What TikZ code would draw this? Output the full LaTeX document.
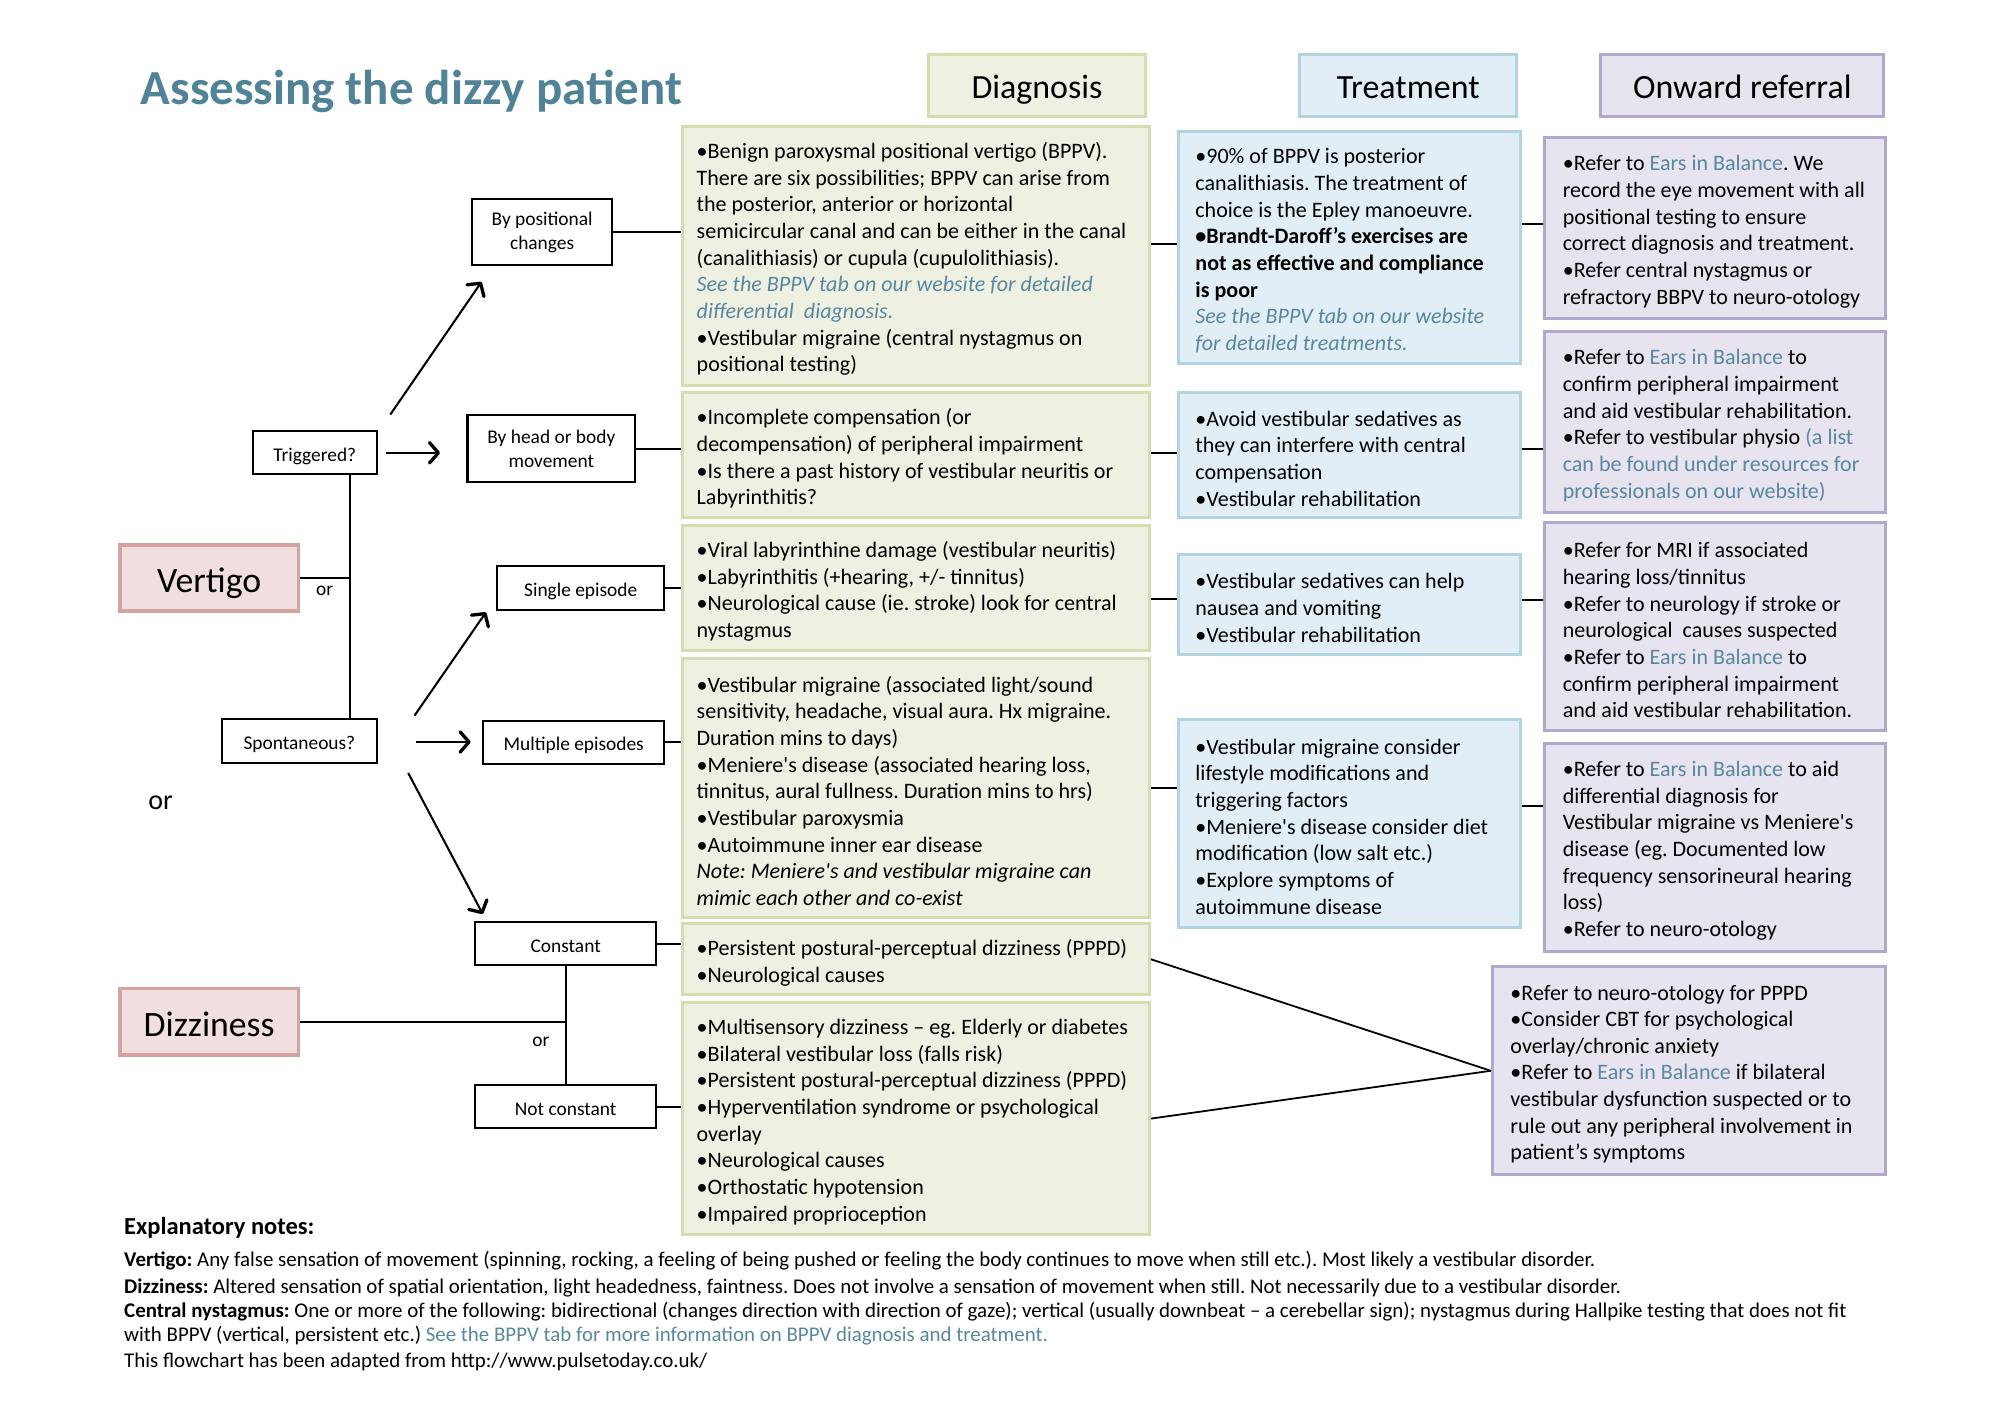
\documentclass[tikz,border=0pt]{standalone}
\usepackage{fontspec}
\setmainfont{Carlito}[Ligatures=TeXOff]
\usetikzlibrary{arrows.meta,calc}
\definecolor{gfill}{RGB}{238,240,226}
\definecolor{gdraw}{RGB}{212,221,176}
\definecolor{bfill}{RGB}{226,238,245}
\definecolor{bdraw}{RGB}{180,211,225}
\definecolor{pfill}{RGB}{231,227,239}
\definecolor{pdraw}{RGB}{178,167,204}
\definecolor{kfill}{RGB}{241,222,222}
\definecolor{kdraw}{RGB}{214,163,163}
\definecolor{linkc}{RGB}{88,135,160}
\definecolor{titlec}{RGB}{80,130,152}
\newcommand{\lk}[1]{\textcolor{linkc}{#1}}
\newcommand{\bodyfs}{\fontsize{8.64}{10.45}\selectfont}
\newcommand{\smallfs}{\fontsize{7.6}{9.5}\selectfont}
\newcommand{\headfs}{\fontsize{13.3}{16}\selectfont}
\newcommand{\notefs}{\fontsize{8.2}{9.85}\selectfont}
\frenchspacing
\begin{document}
\frenchspacing
\begin{tikzpicture}[x=0.5pt,y=-0.5pt,
  gbox/.style={draw=gdraw, fill=gfill, line width=1.2pt, inner sep=0pt},
  bbox/.style={draw=bdraw, fill=bfill, line width=1.2pt, inner sep=0pt},
  pbox/.style={draw=pdraw, fill=pfill, line width=1.2pt, inner sep=0pt},
  head/.style={font=\headfs, text height=10.57pt, text depth=0pt},
  kbox/.style={draw=kdraw, fill=kfill, line width=1.5pt, inner sep=0pt, font=\fontsize{14}{17}\selectfont, text height=11.8pt, text depth=0pt},
  wbox/.style={draw=black, fill=white, line width=0.8pt, inner sep=0pt, align=center, font=\smallfs},
  wone/.style={wbox, text height=6.7pt, text depth=0pt},
  tx/.style={inner sep=0pt, anchor=west, align=left, font=\bodyfs, yshift=-1.3pt},
  conn/.style={line width=0.7pt},
  arr/.style={line width=0.8pt, -{Straight Barb[length=3.5pt,width=8pt,line width=1.3pt,round]}},
  nt/.style={inner sep=0pt, anchor=west, font=\notefs}]
\useasboundingbox (0,0) rectangle (1568,1107);

% title
\node[inner sep=0pt, anchor=west, text=titlec, font=\fontsize{19.2}{23}\selectfont\bfseries, text height=12.36pt, text depth=0pt] (title) at (110,69.6) {Assessing the dizzy patient};

% headers
\node[gbox, head, minimum width=85pt, minimum height=24pt] (hD) at (813,67) {Diagnosis};
\node[bbox, head, minimum width=85pt, minimum height=24pt] (hT) at (1104,67) {Treatment};
\node[pbox, head, minimum width=111pt, minimum height=24pt] (hR) at (1366,67) {Onward referral};

% diagnosis boxes
\node[gbox, minimum width=183pt, minimum height=101.5pt] (D1) at (718,200.5) {};
\node[gbox, minimum width=183pt, minimum height=49pt] (D2) at (718,357) {};
\node[gbox, minimum width=183pt, minimum height=49pt] (D3) at (718,461) {};
\node[gbox, minimum width=183pt, minimum height=101.5pt] (D4) at (718,617.5) {};
\node[gbox, minimum width=183pt, minimum height=28pt] (D5) at (718,752) {};
\node[gbox, minimum width=183pt, minimum height=91pt] (D6) at (718,877) {};

\node[tx] (D1t) at ([xshift=6pt]D1.west) {•Benign paroxysmal positional vertigo (BPPV).\\There are six possibilities; BPPV can arise from\\the posterior, anterior or horizontal\\semicircular canal and can be either in the canal\\(canalithiasis) or cupula (cupulolithiasis).\\\textit{\lk{See the BPPV tab on our website for detailed}}\\\textit{\lk{differential\ \ diagnosis.}}\\•Vestibular migraine (central nystagmus on\\positional testing)};
\node[tx] (D2t) at ([xshift=6pt]D2.west) {•Incomplete compensation (or\\decompensation) of peripheral impairment\\•Is there a past history of vestibular neuritis or\\Labyrinthitis?};
\node[tx] (D3t) at ([xshift=6pt]D3.west) {•Viral labyrinthine damage (vestibular neuritis)\\•Labyrinthitis (+hearing, +/- tinnitus)\\•Neurological cause (ie. stroke) look for central\\nystagmus};
\node[tx] (D4t) at ([xshift=6pt]D4.west) {•Vestibular migraine (associated light/sound\\sensitivity, headache, visual aura. Hx migraine.\\Duration mins to days)\\•Meniere's disease (associated hearing loss,\\tinnitus, aural fullness. Duration mins to hrs)\\•Vestibular paroxysmia\\•Autoimmune inner ear disease\\\textit{Note: Meniere's and vestibular migraine can}\\\textit{mimic each other and co-exist}};
\node[tx] (D5t) at ([xshift=6pt]D5.west) {•Persistent postural-perceptual dizziness (PPPD)\\•Neurological causes};
\node[tx] (D6t) at ([xshift=6pt]D6.west) {•Multisensory dizziness – eg. Elderly or diabetes\\•Bilateral vestibular loss (falls risk)\\•Persistent postural-perceptual dizziness (PPPD)\\•Hyperventilation syndrome or psychological\\overlay\\•Neurological causes\\•Orthostatic hypotension\\•Impaired proprioception};

% treatment boxes
\node[bbox, minimum width=134pt, minimum height=91pt] (T1) at (1058,194) {};
\node[bbox, minimum width=134pt, minimum height=49pt] (T2) at (1058,357) {};
\node[bbox, minimum width=134pt, minimum height=39pt] (T3) at (1058,474) {};
\node[bbox, minimum width=134pt, minimum height=81.5pt] (T4) at (1058,645.5) {};

\node[tx] (T1t) at ([xshift=7pt]T1.west) {•90\% of BPPV is posterior\\canalithiasis. The treatment of\\choice is the Epley manoeuvre.\\\textbf{•Brandt-Daroff’s exercises are}\\\textbf{not as effective and compliance}\\\textbf{is poor}\\\textit{\lk{See the BPPV tab on our website}}\\\textit{\lk{for detailed treatments.}}};
\node[tx] (T2t) at ([xshift=7pt]T2.west) {•Avoid vestibular sedatives as\\they can interfere with central\\compensation\\•Vestibular rehabilitation};
\node[tx] (T3t) at ([xshift=7pt]T3.west) {•Vestibular sedatives can help\\nausea and vomiting\\•Vestibular rehabilitation};
\node[tx] (T4t) at ([xshift=7pt]T4.west) {•Vestibular migraine consider\\lifestyle modifications and\\triggering factors\\•Meniere's disease consider diet\\modification (low salt etc.)\\•Explore symptoms of\\autoimmune disease};

% referral boxes
\node[pbox, minimum width=133.5pt, minimum height=71pt] (R1) at (1344.5,179) {};
\node[pbox, minimum width=133.5pt, minimum height=71pt] (R2) at (1344.5,331) {};
\node[pbox, minimum width=133.5pt, minimum height=81.5pt] (R3) at (1344.5,491.5) {};
\node[pbox, minimum width=133.5pt, minimum height=81.5pt] (R4) at (1344.5,664.5) {};
\node[pbox, minimum width=154pt, minimum height=81.5pt] (R5) at (1324,839.5) {};

\node[tx] (R1t) at ([xshift=7.5pt]R1.west) {•Refer to \lk{Ears in Balance}. We\\record the eye movement with all\\positional testing to ensure\\correct diagnosis and treatment.\\•Refer central nystagmus or\\refractory BBPV to neuro-otology};
\node[tx] (R2t) at ([xshift=7.5pt]R2.west) {•Refer to \lk{Ears in Balance} to\\confirm peripheral impairment\\and aid vestibular rehabilitation.\\•Refer to vestibular physio \lk{(a list}\\\lk{can be found under resources for}\\\lk{professionals on our website)}};
\node[tx] (R3t) at ([xshift=7.5pt]R3.west) {•Refer for MRI if associated\\hearing loss/tinnitus\\•Refer to neurology if stroke or\\neurological\ \ causes suspected\\•Refer to \lk{Ears in Balance} to\\confirm peripheral impairment\\and aid vestibular rehabilitation.};
\node[tx] (R4t) at ([xshift=7.5pt]R4.west) {•Refer to \lk{Ears in Balance} to aid\\differential diagnosis for\\Vestibular migraine vs Meniere's\\disease (eg. Documented low\\frequency sensorineural hearing\\loss)\\•Refer to neuro-otology};
\node[tx] (R5t) at ([xshift=7.5pt]R5.west) {•Refer to neuro-otology for PPPD\\•Consider CBT for psychological\\overlay/chronic anxiety\\•Refer to \lk{Ears in Balance} if bilateral\\vestibular dysfunction suspected or to\\rule out any peripheral involvement in\\patient’s symptoms};

% left side boxes
\node[wbox, minimum width=55pt, minimum height=26pt] (pos) at (425,182) {By positional\\changes};
\node[wone, minimum width=48.75pt, minimum height=16.8pt] (trig) at (246.8,354.8) {Triggered?};
\node[wbox, minimum width=65.75pt, minimum height=26.25pt] (head) at (432.25,351.75) {By head or body\\movement};
\node[kbox, minimum width=70pt, minimum height=26pt] (vert) at (164,453) {Vertigo};
\node[wone, minimum width=65.3pt, minimum height=17pt] (single) at (455.3,461) {Single episode};
\node[wone, minimum width=60.75pt, minimum height=17pt] (spont) at (234.75,581) {Spontaneous?};
\node[wone, minimum width=70.8pt, minimum height=16.85pt] (multi) at (449.8,581.85) {Multiple episodes};
\node[wone, minimum width=71pt, minimum height=16.8pt] (const) at (443.5,739.8) {Constant};
\node[wone, minimum width=71pt, minimum height=17pt] (nconst) at (443.5,867.6) {Not constant};
\node[kbox, minimum width=70pt, minimum height=26pt] (dizz) at (164,801) {Dizziness};

% or labels
\node[inner sep=0pt, font=\smallfs] (or1) at (254.5,463) {or};
\node[inner sep=0pt, font=\fontsize{11}{13}\selectfont] (or2) at (126,629) {or};
\node[inner sep=0pt, font=\smallfs] (or3) at (424,817) {or};

% tree lines
\coordinate (vx) at (274.5,453);
\draw[conn] (trig.south -| vx) -- (spont.north -| vx);
\draw[conn] (vert.east) -- (vert.east -| vx);
\draw[conn] (const.south) -- (nconst.north);
\draw[conn] (dizz.east) -- (dizz.east -| const.south);

% arrows
\coordinate (a1s) at (306,325);   \coordinate (a1e) at (377.5,221);
\coordinate (a2s) at (302.5,355); \coordinate (a2e) at (345,355);
\coordinate (a3s) at (325,561);   \coordinate (a3e) at (381,480);
\coordinate (a4s) at (326,581.7); \coordinate (a4e) at (369,581.7);
\coordinate (a5s) at (320,606);   \coordinate (a5e) at (378.5,716.6);
\draw[arr] (a1s) -- (a1e);
\draw[arr] (a2s) -- (a2e);
\draw[arr] (a3s) -- (a3e);
\draw[arr] (a4s) -- (a4e);
\draw[arr] (a5s) -- (a5e);

% left boxes to diagnosis
\draw[conn] (pos.east) -- (pos.east -| D1.west);
\draw[conn] (head.east) -- (head.east -| D2.west);
\draw[conn] (single.east) -- (single.east -| D3.west);
\draw[conn] (multi.east) -- (multi.east -| D4.west);
\draw[conn] (const.east) -- (const.east -| D5.west);
\draw[conn] (nconst.east) -- (nconst.east -| D6.west);

% diagnosis to treatment
\draw[conn] ([yshift=1.25pt]T1.west -| D1.east) -- ([yshift=1.25pt]T1.west);
\draw[conn] ([yshift=1pt]D2.east) -- ([yshift=1pt]D2.east -| T2.west);
\draw[conn] ([yshift=2.2pt]T3.west -| D3.east) -- ([yshift=2.2pt]T3.west);
\draw[conn] (D4.east) -- (D4.east -| T4.west);

% treatment to referral
\draw[conn] ([yshift=1.7pt]R1.west -| T1.east) -- ([yshift=1.7pt]R1.west);
\draw[conn] ([yshift=2.5pt]T2.east) -- ([yshift=2.5pt]T2.east -| R2.west);
\draw[conn] ([yshift=1.8pt]T3.east) -- ([yshift=1.8pt]T3.east -| R3.west);
\draw[conn] ([yshift=6.75pt]T4.east) -- ([yshift=6.75pt]T4.east -| R4.west);

% dizziness diagnosis to referral
\draw[conn] (D5.east) -- (R5.west);
\draw[conn] (D6.east) -- (R5.west);

% notes
\node[inner sep=0pt, anchor=west, font=\fontsize{9.6}{11.5}\selectfont\bfseries] (nh) at (97,963) {Explanatory notes:};
\node[nt] (n1) at (97,988.5) {\textbf{Vertigo:} Any false sensation of movement (spinning, rocking, a feeling of being pushed or feeling the body continues to move when still etc.). Most likely a vestibular disorder.};
\node[nt] (n2) at (97,1009.5) {\textbf{Dizziness:} Altered sensation of spatial orientation, light headedness, faintness. Does not involve a sensation of movement when still. Not necessarily due to a vestibular disorder.};
\node[nt] (n3) at (97,1028.5) {\textbf{Central nystagmus:} One or more of the following: bidirectional (changes direction with direction of gaze); vertical (usually downbeat – a cerebellar sign); nystagmus during Hallpike testing that does not fit};
\node[nt] (n4) at (97,1047.5) {with BPPV (vertical, persistent etc.) \lk{See the BPPV tab for more information on BPPV diagnosis and treatment.}};
\node[nt] (n5) at (97,1067.5) {This flowchart has been adapted from http://www.pulsetoday.co.uk/};
\end{tikzpicture}
\end{document}
